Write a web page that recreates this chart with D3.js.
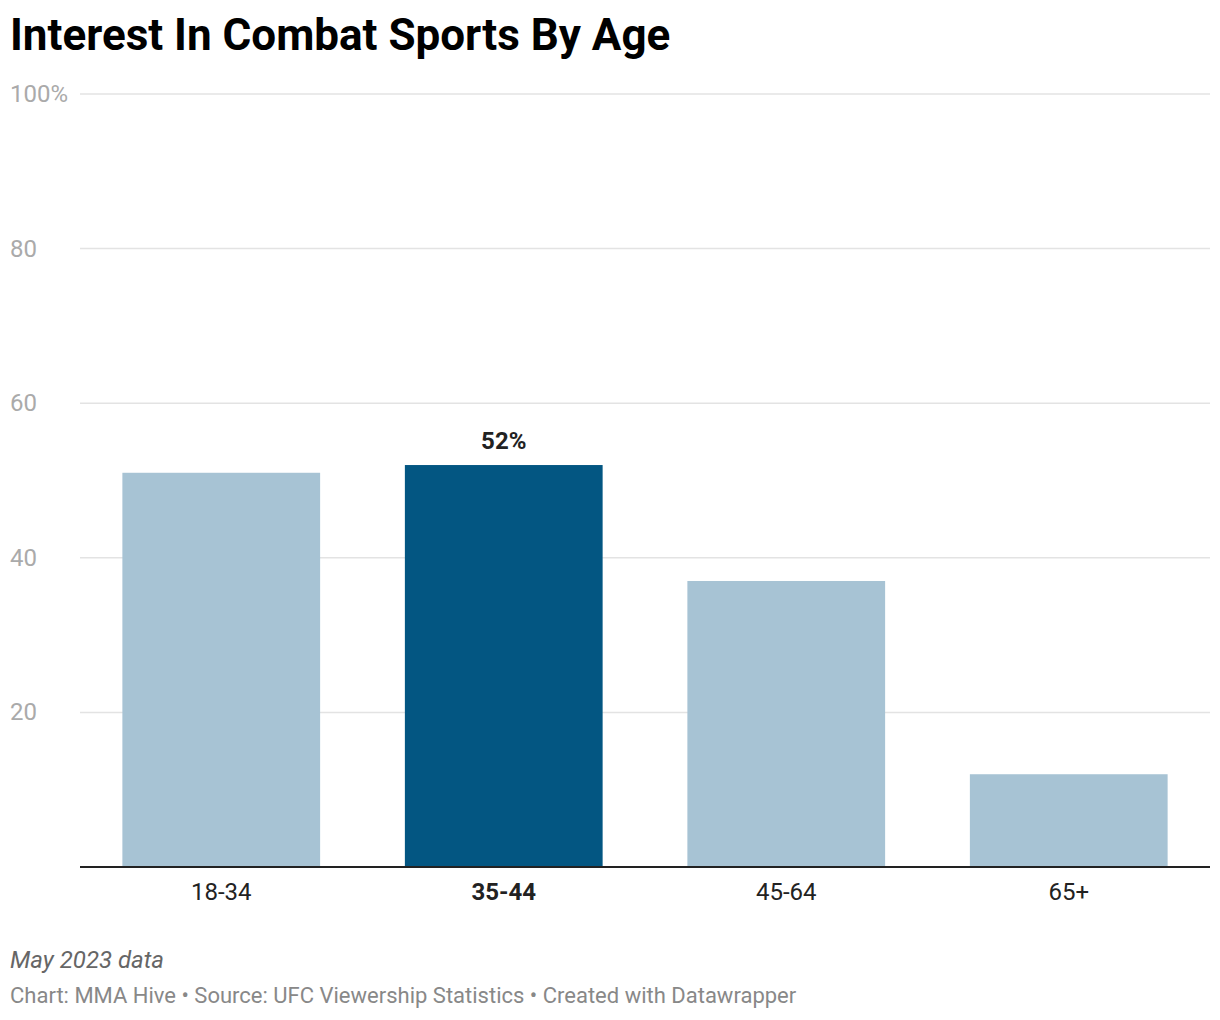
<!DOCTYPE html>
<html lang="en">
<head>
<meta charset="utf-8">
<title>Interest In Combat Sports By Age</title>
<script src="https://d3js.org/d3.v7.min.js"></script>
<style>
  body { margin: 0; background: #fff; font-family: Roboto, sans-serif; }
  .title { font-weight: 700; font-size: 44px; fill: #000; }
  .ylab { font-size: 24px; fill: #aaaaaa; }
  .xlab { font-size: 24px; fill: #222; }
  .note { font-size: 24px; font-style: italic; fill: #666; }
  .source { font-size: 22px; fill: #888; }
</style>
</head>
<body>
<div id="chart"></div>
<script>
const ageGroups = ["18-34", "35-44", "45-64", "65+"];
const interest = [51, 52, 37, 12];
const highlight = "35-44";
const yTicks = [20, 40, 60, 80, 100];

const w = 1220, h = 1020;
const svg = d3.select("#chart").append("svg").attr("width", w).attr("height", h);

svg.append("text").attr("class", "title").attr("x", 10).attr("y", 50)
  .text("Interest In Combat Sports By Age");

const x = d3.scaleBand().domain(ageGroups).range([80, 1210])
  .paddingInner(0.3).paddingOuter(0.15);
const y = d3.scaleLinear().domain([0, 100]).range([867, 94]);

// gridlines + labels
svg.selectAll(".grid").data(yTicks).enter().append("line")
  .attr("x1", 80).attr("x2", 1210)
  .attr("y1", d => y(d)).attr("y2", d => y(d))
  .attr("stroke", "#e3e3e3").attr("stroke-width", 1.5);

svg.selectAll(".ylab").data(yTicks).enter().append("text")
  .attr("class", "ylab").attr("x", 10).attr("y", d => y(d) + 8)
  .text(d => d === 100 ? "100%" : d);

const data = ageGroups.map((g, i) => ({ g, v: interest[i] }));

svg.selectAll(".bar").data(data).enter().append("rect")
  .attr("x", d => x(d.g)).attr("width", x.bandwidth())
  .attr("y", d => y(d.v)).attr("height", d => y(0) - y(d.v))
  .attr("fill", d => d.g === highlight ? "#035682" : "#a7c3d4");

// baseline
svg.append("line").attr("x1", 80).attr("x2", 1210)
  .attr("y1", y(0)).attr("y2", y(0))
  .attr("stroke", "#222").attr("stroke-width", 2);

svg.selectAll(".xlab").data(ageGroups).enter().append("text")
  .attr("class", "xlab").attr("text-anchor", "middle")
  .attr("x", d => x(d) + x.bandwidth() / 2).attr("y", 900)
  .style("font-weight", d => d === highlight ? 700 : 400)
  .text(d => d);

// value label on highlight
svg.selectAll(".vlab").data(data.filter(d => d.g === highlight)).enter().append("text")
  .attr("text-anchor", "middle").attr("font-size", 24).attr("font-weight", 700).attr("fill", "#222")
  .attr("x", d => x(d.g) + x.bandwidth() / 2).attr("y", d => y(d.v) - 16)
  .text(d => d.v + "%");

svg.append("text").attr("class", "note").attr("x", 10).attr("y", 968).text("May 2023 data");
svg.append("text").attr("class", "source").attr("x", 10).attr("y", 1003)
  .text("Chart: MMA Hive \u2022 Source: UFC Viewership Statistics \u2022 Created with Datawrapper");
</script>
</body>
</html>
